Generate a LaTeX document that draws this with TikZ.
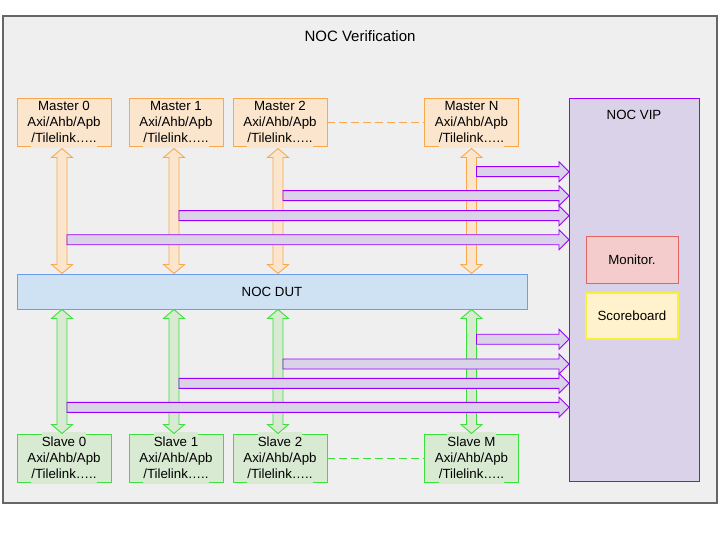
\documentclass[tikz,border=0pt]{standalone}
\usepackage{fontspec}
\setmainfont{Liberation Sans}
\definecolor{frameF}{HTML}{EFEFEF}
\definecolor{frameD}{HTML}{666666}
\definecolor{mF}{HTML}{FCE5CD}
\definecolor{mD}{HTML}{F9A94B}
\definecolor{sF}{HTML}{D9EAD3}
\definecolor{sD}{HTML}{3CE03C}
\definecolor{dutF}{HTML}{CFE2F3}
\definecolor{dutD}{HTML}{6D9EEB}
\definecolor{vipF}{HTML}{D9D2E9}
\definecolor{vipD}{HTML}{9900FF}
\definecolor{monF}{HTML}{F4CCCC}
\definecolor{monD}{HTML}{E06666}
\definecolor{scF}{HTML}{FFF2CC}
\definecolor{scD}{HTML}{F7F03C}
\newcommand\vdarr[4]{% style, x, ytop, ybot
  \draw[#1] (#2,#3) -- ++(10.5,9) -- ++(-5.5,0) -- ({#2+5},{#4-9}) -- ++(5.5,0)
    -- (#2,#4) -- ++(-10.5,-9) -- ++(5.5,0) -- ({#2-5},{#3+9}) -- ++(-5.5,0) -- cycle;}
\newcommand\harr[3]{% x0, yc, xtip
  \draw[parr] (#1,{#2-5}) -- ({#3-10},{#2-5}) -- ++(0,-5) -- (#3,#2)
    -- ({#3-10},{#2+10}) -- ++(0,-5) -- (#1,{#2+5}) -- cycle;}
\begin{document}
\begin{tikzpicture}[x=1pt,y=-1pt,
  font=\fontsize{13.3}{16}\selectfont,
  box/.style={rectangle, line width=0.9pt, inner sep=0pt, align=center},
  mbox/.style={box, draw=mD, fill=mF, minimum width=94pt, minimum height=48pt},
  sbox/.style={box, draw=sD, fill=sF, minimum width=94pt, minimum height=48pt},
  gapm/.style={fill=mF, inner sep=0pt, minimum height=2.2pt},
  gaps/.style={fill=sF, inner sep=0pt, minimum height=2.2pt},
  oarr/.style={draw=mD, fill=mF, line width=0.9pt, line join=miter},
  garr/.style={draw=sD, fill=sF, line width=0.9pt, line join=miter},
  parr/.style={draw=vipD, fill=vipF, line width=0.9pt, line join=miter},
  mdash/.style={draw=mD, line width=0.9pt, dash pattern=on 8pt off 4pt},
  sdash/.style={draw=sD, line width=0.9pt, dash pattern=on 8pt off 4pt}]
\useasboundingbox (0,0) rectangle (720,540);
% frame
\node[box, draw=frameD, fill=frameF, line width=1.1pt, minimum width=714pt, minimum height=487pt] (frame) at (360,259.5) {};
\node[font=\fontsize{15}{18}\selectfont] (title) at (360,36) {NOC Verification};
% VIP
\node[box, draw=vipD, fill=vipF, minimum width=130pt, minimum height=383pt] (vip) at (634,289.5) {};
\node (viplabel) at (634,115) {NOC VIP};
\node[box, draw=monD, fill=monF, minimum width=92pt, minimum height=47pt] (mon) at (632,259.5) {Monitor.};
\node[box, draw=scD, fill=scF, line width=1.1pt, minimum width=92pt, minimum height=46pt] (sb) at (632,316) {Scoreboard};
% DUT
\node[box, draw=dutD, fill=dutF, minimum width=510pt, minimum height=35pt] (dut) at (272,291.5) {NOC DUT};
% masters
\node[mbox] (m0) at (64,122) {Master 0\\Axi/Ahb/Apb\\/Tilelink…..};
\node[mbox] (m1) at (176,122) {Master 1\\Axi/Ahb/Apb\\/Tilelink…..};
\node[mbox] (m2) at (280,122) {Master 2\\Axi/Ahb/Apb\\/Tilelink…..};
\node[mbox] (mn) at (471.5,122) {Master N\\Axi/Ahb/Apb\\/Tilelink…..};
\foreach \n in {m0,m1,m2,mn}{\node[gapm] (g\n) at (\n.south) {\hphantom{/Tilelink…..}};}
% slaves
\node[sbox] (s0) at (64,458) {Slave 0\\Axi/Ahb/Apb\\/Tilelink…..};
\node[sbox] (s1) at (176,458) {Slave 1\\Axi/Ahb/Apb\\/Tilelink…..};
\node[sbox] (s2) at (280,458) {Slave 2\\Axi/Ahb/Apb\\/Tilelink…..};
\node[sbox] (sm) at (471.5,458) {Slave M\\Axi/Ahb/Apb\\/Tilelink…..};
\foreach \n/\t in {s0/Slave 0,s1/Slave 1,s2/Slave 2,sm/Slave M}{
  \node[gaps] (gt\n) at (\n.north) {\hphantom{\t}};
  \node[gaps] (gb\n) at (\n.south) {\hphantom{/Tilelink…..}};}
% dashed links
\draw[mdash] (m2.east) -- (mn.west);
\draw[sdash] (s2.east) -- (sm.west);
% vertical double arrows
\vdarr{oarr}{62}{148.5}{273.5}
\vdarr{oarr}{174}{148.5}{273.5}
\vdarr{oarr}{278}{148.5}{273.5}
\vdarr{oarr}{471.5}{148.5}{273.5}
\vdarr{garr}{62}{309.5}{433.5}
\vdarr{garr}{174}{309.5}{433.5}
\vdarr{garr}{278}{309.5}{433.5}
\vdarr{garr}{471.5}{309.5}{433.5}
% arrows to VIP
\harr{476.5}{171.7}{569}
\harr{283}{195.7}{569}
\harr{179}{215.7}{569}
\harr{67}{239.7}{569}
\harr{476.5}{339.2}{569}
\harr{283}{364}{569}
\harr{179}{383.3}{569}
\harr{67}{407.3}{569}
\end{tikzpicture}
\end{document}
